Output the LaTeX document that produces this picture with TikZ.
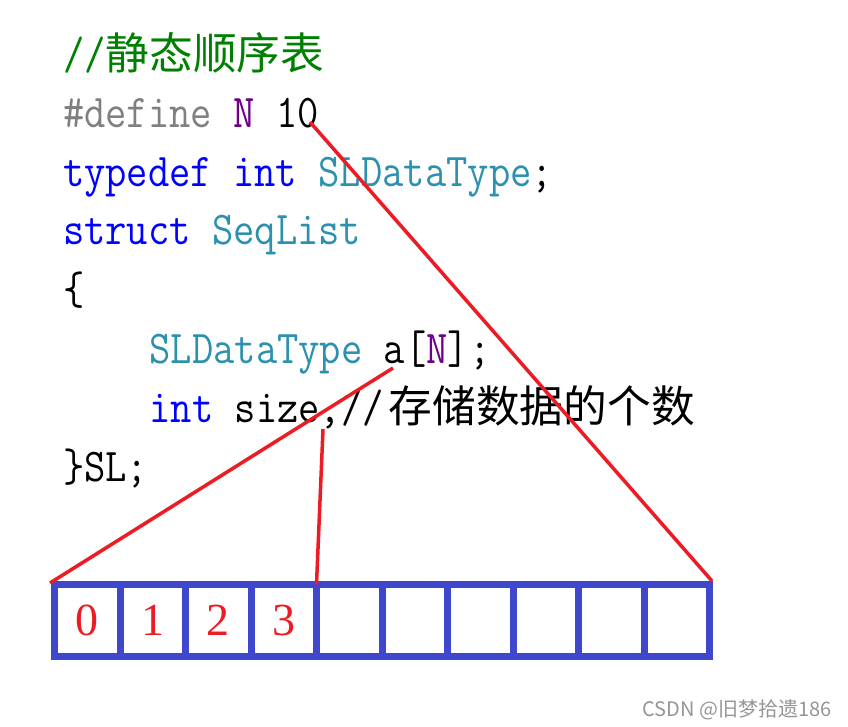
\documentclass[tikz,border=0pt]{standalone}
\usepackage{fontspec}
\newfontfamily\codefont{Latin Modern Mono}[FakeStretch=0.88]
\newfontfamily\cjk{Noto Sans CJK SC}[Scale=0.93]
\newfontfamily\wmfont{Noto Sans CJK SC}
\newfontfamily\digitfont{Liberation Serif}
\definecolor{cgreen}{RGB}{0,128,0}
\definecolor{cgray}{RGB}{128,128,128}
\definecolor{cpurple}{RGB}{111,0,138}
\definecolor{cblue}{RGB}{0,0,255}
\definecolor{cteal}{RGB}{43,145,175}
\definecolor{ared}{RGB}{237,28,36}
\definecolor{ablue}{RGB}{63,72,204}
\definecolor{wmgray}{RGB}{150,150,150}
\begin{document}
\begin{tikzpicture}[x=1pt,y=-1pt,
  code/.style={anchor=base west, inner sep=0pt, outer sep=0pt, font=\fontsize{47}{47}\selectfont\codefont},
  cell/.style={draw=ablue, line width=7pt, minimum width=65.5pt, minimum height=72pt, inner sep=0pt, outer sep=0pt,
    text=ared, font=\fontsize{46}{46}\selectfont\digitfont},
  link/.style={draw=ared, line width=3.5pt}]
\useasboundingbox[fill=white] (0,0) rectangle (848,727);

% code lines
\node[code, text=cgreen] (l1) at (63,70) {//{\cjk 静态顺序表}};
\node[code] (l2) at (63,128) {\textcolor{cgray}{\#define} \textcolor{cpurple}{N} 10};
\node[code] (l3) at (63,187) {\textcolor{cblue}{typedef int} \textcolor{cteal}{SLDataType};};
\node[code] (l4) at (63,245) {\textcolor{cblue}{struct} \textcolor{cteal}{SeqList}};
\node[code] (l5) at (63,304) {\{};
\node[code] (l6) at (149.5,363) {\textcolor{cteal}{SLDataType} a[\textcolor{cpurple}{N}];};
\node[code] (l7) at (149.5,422) {\textcolor{cblue}{int} size,//\hspace{5pt}{\cjk 存储数据的个数}};
\node[code] (l8) at (63,481) {\}SL;};

% array
\foreach \i/\t in {0/0,1/1,2/2,3/3,4/,5/,6/,7/,8/,9/} {
  \node[cell] (c\i) at ({54.5+65.5*(\i+0.5)},620.5) {\t};
}

% link end points
\coordinate (ten) at (310,122);
\coordinate (abot) at (393,368);
\coordinate (sz) at (323,429);
\coordinate (arrL) at (50,583);
\coordinate (arrR) at (712,581);

\draw[link] (ten) -- (arrR);
\draw[link] (abot) -- (arrL);
\draw[link] (sz) -- (c3.north east);

% watermark
\node[anchor=base east, inner sep=0pt, text=wmgray, font=\wmfont\fontsize{20}{20}\selectfont] (wm) at (832,716) {CSDN @旧梦拾遗186};
\end{tikzpicture}
\end{document}
